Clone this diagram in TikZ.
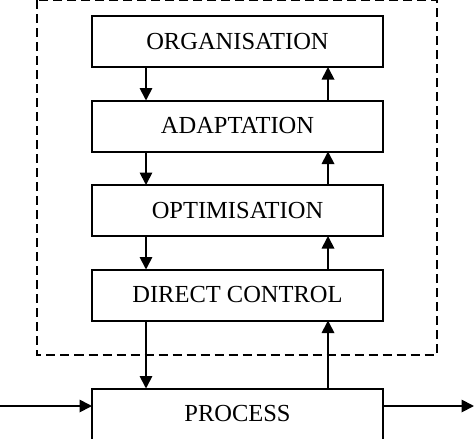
\documentclass[tikz,border=0pt]{standalone}
\usepackage{fontspec}
\setmainfont{Liberation Serif}
\usepackage{tikz}
\usetikzlibrary{arrows.meta, positioning, calc}
\tikzset{%
	level/.style={draw, rectangle, line width=2bp, minimum width=291bp, minimum height=51bp,%
		inner sep=0mm, outer sep=0mm, font=\fontsize{24.5bp}{28bp}\selectfont},
	flow/.style={line width=1.8bp, -{Triangle[length=12.5bp,width=12.5bp]}},
	frame/.style={draw, line width=2bp, dash pattern=on 9bp off 5bp}
}

\begin{document}
\begin{tikzpicture}[node distance=33.5bp]
			\clip (0,0) rectangle (474bp,-439bp);
			\useasboundingbox (0,0) rectangle (474bp,-439bp);
			\node[level] (org) at (237.5bp,-41.5bp) {ORGANISATION};
			\node[level] (adapt) [below=of org] {ADAPTATION};
			\node[level] (optim) [below=of adapt] {OPTIMISATION};
			\node[level] (ctrl) [below=of optim] {DIRECT CONTROL};
			\node[level, node distance=68bp] (proc) [below=of ctrl] {PROCESS};
			\coordinate (in) at (0,-406bp);
			\coordinate (out) at (474bp,-406bp);
			% control hierarchy
			\draw [frame] ([shift={(-55bp,16bp)}]org.north west) rectangle ([shift={(54bp,-34bp)}]ctrl.south east);
			\draw [flow] ([xshift=-91.5bp]org.south) to ([xshift=-91.5bp]adapt.north);
			\draw [flow] ([xshift=-91.5bp]adapt.south) to ([xshift=-91.5bp]optim.north);
			\draw [flow] ([xshift=-91.5bp]optim.south) to ([xshift=-91.5bp]ctrl.north);
			\draw [flow] ([xshift=-91.5bp]ctrl.south) to ([xshift=-91.5bp]proc.north);
			\draw [flow] ([xshift=90.5bp]adapt.north) to ([xshift=90.5bp]org.south);
			\draw [flow] ([xshift=90.5bp]optim.north) to ([xshift=90.5bp]adapt.south);
			\draw [flow] ([xshift=90.5bp]ctrl.north) to ([xshift=90.5bp]optim.south);
			\draw [flow] ([xshift=90.5bp]proc.north) to ([xshift=90.5bp]ctrl.south);
			% process in and out
			\draw [flow] (in) to (in -| proc.west);
			\draw [flow] (out -| proc.east) to (out);
\end{tikzpicture}
\end{document}
